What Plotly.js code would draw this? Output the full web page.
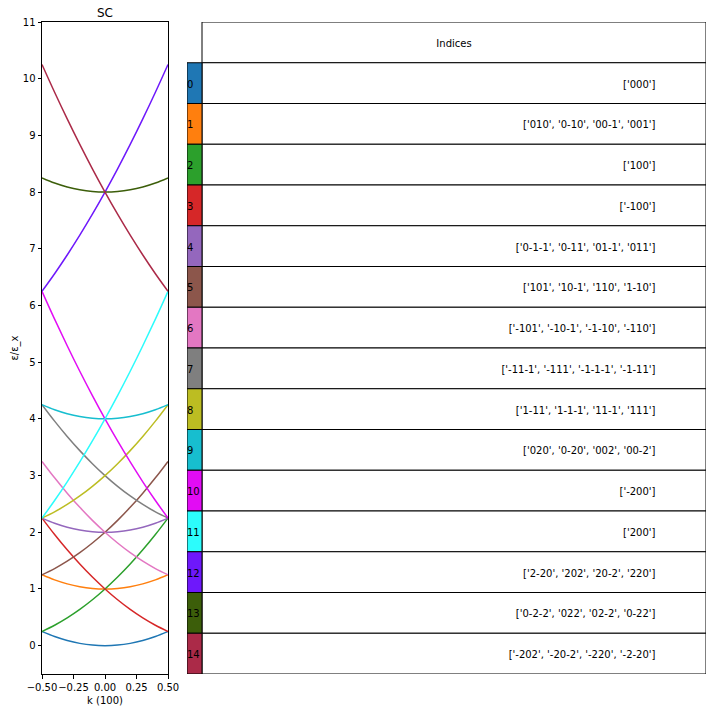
<!DOCTYPE html>
<html>
<head>
<meta charset="utf-8">
<script src="https://cdn.plot.ly/plotly-3.0.1.min.js"></script>
<style>html,body{margin:0;padding:0;background:#fff;}#chart{width:712px;height:712px;}</style>
</head>
<body>
<div id="chart"></div>
<script>
// ---- data ----
var kValues = [-0.5, -0.4, -0.3, -0.2, -0.1, 0, 0.1, 0.2, 0.3, 0.4, 0.5];

var band0  = [0.25, 0.16, 0.09, 0.04, 0.01, 0, 0.01, 0.04, 0.09, 0.16, 0.25];
var band1  = [1.25, 1.16, 1.09, 1.04, 1.01, 1, 1.01, 1.04, 1.09, 1.16, 1.25];
var band2  = [0.25, 0.36, 0.49, 0.64, 0.81, 1, 1.21, 1.44, 1.69, 1.96, 2.25];
var band3  = [2.25, 1.96, 1.69, 1.44, 1.21, 1, 0.81, 0.64, 0.49, 0.36, 0.25];
var band4  = [2.25, 2.16, 2.09, 2.04, 2.01, 2, 2.01, 2.04, 2.09, 2.16, 2.25];
var band5  = [1.25, 1.36, 1.49, 1.64, 1.81, 2, 2.21, 2.44, 2.69, 2.96, 3.25];
var band6  = [3.25, 2.96, 2.69, 2.44, 2.21, 2, 1.81, 1.64, 1.49, 1.36, 1.25];
var band7  = [4.25, 3.96, 3.69, 3.44, 3.21, 3, 2.81, 2.64, 2.49, 2.36, 2.25];
var band8  = [2.25, 2.36, 2.49, 2.64, 2.81, 3, 3.21, 3.44, 3.69, 3.96, 4.25];
var band9  = [4.25, 4.16, 4.09, 4.04, 4.01, 4, 4.01, 4.04, 4.09, 4.16, 4.25];
var band10 = [6.25, 5.76, 5.29, 4.84, 4.41, 4, 3.61, 3.24, 2.89, 2.56, 2.25];
var band11 = [2.25, 2.56, 2.89, 3.24, 3.61, 4, 4.41, 4.84, 5.29, 5.76, 6.25];
var band12 = [6.25, 6.56, 6.89, 7.24, 7.61, 8, 8.41, 8.84, 9.29, 9.76, 10.25];
var band13 = [8.25, 8.16, 8.09, 8.04, 8.01, 8, 8.01, 8.04, 8.09, 8.16, 8.25];
var band14 = [10.25, 9.76, 9.29, 8.84, 8.41, 8, 7.61, 7.24, 6.89, 6.56, 6.25];

var rowLabels = ['0','1','2','3','4','5','6','7','8','9','10','11','12','13','14'];
var indexLabels = [
  "['000']",
  "['010', '0-10', '00-1', '001']",
  "['100']",
  "['-100']",
  "['0-1-1', '0-11', '01-1', '011']",
  "['101', '10-1', '110', '1-10']",
  "['-101', '-10-1', '-1-10', '-110']",
  "['-11-1', '-111', '-1-1-1', '-1-11']",
  "['1-11', '1-1-1', '11-1', '111']",
  "['020', '0-20', '002', '00-2']",
  "['-200']",
  "['200']",
  "['2-20', '202', '20-2', '220']",
  "['0-2-2', '022', '02-2', '0-22']",
  "['-202', '-20-2', '-220', '-2-20']"
];
var headerLabel = 'Indices';
var xTickVals = [-0.5, -0.25, 0, 0.25, 0.5];
var xTickText = ['\u22120.50', '\u22120.25', '0.00', '0.25', '0.50'];

// ---- styling ----
var palette = ['#1f77b4','#ff7f0e','#2ca02c','#d62728','#9467bd','#8c564b','#e377c2','#7f7f7f',
               '#bcbd22','#17becf','#e20cf4','#2cfcfc','#6e18fb','#3c5e0a','#ab2a48'];
var bands = [band0,band1,band2,band3,band4,band5,band6,band7,band8,band9,band10,band11,band12,band13,band14];
var FONT = 'DejaVu Sans, Liberation Sans, sans-serif';
var W = 712, H = 712;
var textNudge = 0.05; // small downward nudge of cell text (in row units)
function px(x){ return x / W; }
function py(y){ return 1 - y / H; }

var traces = [];
bands.forEach(function(b, i){
  traces.push({
    type: 'scatter', mode: 'lines', x: kValues, y: b,
    line: {color: palette[i], width: 1.5, shape: 'spline', smoothing: 1},
    xaxis: 'x', yaxis: 'y', hoverinfo: 'skip', showlegend: false
  });
});

// table made of bars on a second axis pair
var labelColW = 15 / 519;
var rowPos = rowLabels.map(function(_, i){ return i + 1; });
var allRowPos = [0].concat(rowPos);
var textRowPos = rowPos.map(function(r){ return r + textNudge; });
traces.push({
  type: 'bar', orientation: 'h', y: allRowPos,
  x: allRowPos.map(function(){ return 1 - labelColW; }), base: labelColW, width: 1,
  marker: {color: '#ffffff', line: {color: '#000000', width: 1}},
  xaxis: 'x2', yaxis: 'y2', hoverinfo: 'skip', showlegend: false
});
traces.push({
  type: 'bar', orientation: 'h', y: rowPos,
  x: rowPos.map(function(){ return labelColW; }), base: 0, width: 1,
  marker: {color: palette, line: {color: '#000000', width: 1}},
  xaxis: 'x2', yaxis: 'y2', hoverinfo: 'skip', showlegend: false
});
traces.push({
  type: 'scatter', mode: 'text', y: textRowPos, x: rowPos.map(function(){ return 0; }),
  text: rowLabels, textposition: 'middle right', marker: {size: 0},
  textfont: {family: FONT, size: 10, color: '#000'},
  xaxis: 'x2', yaxis: 'y2', hoverinfo: 'skip', showlegend: false
});
traces.push({
  type: 'scatter', mode: 'text', y: textRowPos, x: rowPos.map(function(){ return (655.5 - 187) / 519; }),
  text: indexLabels, textposition: 'middle left', marker: {size: 0},
  textfont: {family: FONT, size: 10, color: '#000'},
  xaxis: 'x2', yaxis: 'y2', hoverinfo: 'skip', showlegend: false
});
traces.push({
  type: 'scatter', mode: 'text', y: [textNudge], x: [(454 - 187) / 519],
  text: [headerLabel], textposition: 'middle center',
  textfont: {family: FONT, size: 10, color: '#000'},
  xaxis: 'x2', yaxis: 'y2', hoverinfo: 'skip', showlegend: false
});

var layout = {
  width: W, height: H,
  margin: {l: 0, r: 0, t: 0, b: 0},
  paper_bgcolor: '#ffffff', plot_bgcolor: 'rgba(0,0,0,0)',
  font: {family: FONT, size: 10, color: '#000'},
  barmode: 'overlay',
  showlegend: false,
  title: {text: 'SC', font: {family: FONT, size: 12, color: '#000'},
          x: px(105), xanchor: 'center', y: py(13), yanchor: 'middle', xref: 'paper', yref: 'paper'},
  xaxis: {
    domain: [px(42), px(168)], range: [-0.5, 0.5], anchor: 'y',
    tickmode: 'array', tickvals: xTickVals, ticktext: xTickText, tickangle: 0,
    ticks: 'outside', ticklen: 3.5, tickwidth: 1, tickcolor: '#000',
    showline: true, linecolor: '#000', linewidth: 1, mirror: true,
    showgrid: false, zeroline: false,
    tickfont: {family: FONT, size: 10, color: '#000'},
    title: {text: 'k (100)', font: {family: FONT, size: 10, color: '#000'}, standoff: 5}
  },
  yaxis: {
    domain: [py(674), py(22)], range: [-0.5, 11], anchor: 'x',
    tickmode: 'linear', tick0: 0, dtick: 1,
    ticks: 'outside', ticklen: 3.5, tickwidth: 1, tickcolor: '#000',
    showline: true, linecolor: '#000', linewidth: 1, mirror: true,
    showgrid: false, zeroline: false,
    tickfont: {family: FONT, size: 10, color: '#000'},
    title: {text: '\u03b5/\u03b5_x', font: {family: FONT, size: 10, color: '#000'}, standoff: 2}
  },
  xaxis2: {
    domain: [px(187), px(706)], range: [0, 1], anchor: 'y2',
    visible: false, fixedrange: true
  },
  yaxis2: {
    domain: [py(674), py(22)], range: [15.5, -0.5], anchor: 'x2',
    visible: false, fixedrange: true
  }
};

Plotly.newPlot('chart', traces, layout, {staticPlot: true, displayModeBar: false});
</script>
</body>
</html>
